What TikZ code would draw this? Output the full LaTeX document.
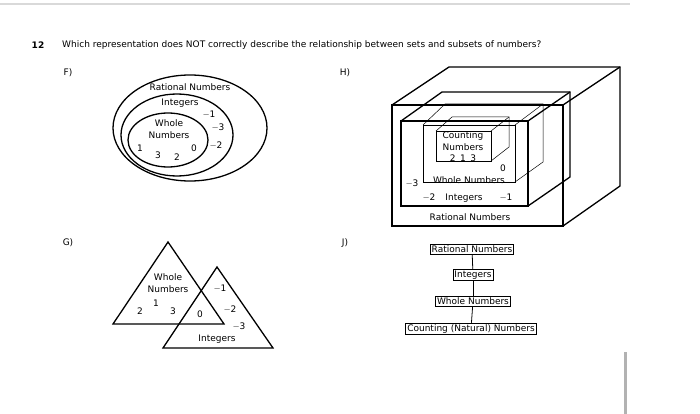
\documentclass[tikz,border=0pt]{standalone}
\usepackage{fontspec}
\setmainfont{DejaVu Sans}
\begin{document}
\begin{tikzpicture}[x=1pt,y=-1pt,
  lab/.style={font=\fontsize{9}{10}\selectfont,inner sep=0pt},
  thk/.style={line width=1.3pt},
  thn/.style={line width=0.5pt},
  jbox/.style={draw,line width=0.8pt,inner sep=1.5pt,font=\fontsize{9}{10}\selectfont}]
\useasboundingbox (0,0) rectangle (700,414);
\draw[gray!30,line width=1.5pt] (0,4) -- (630,4);
\draw[gray!60,line width=3pt] (625,352) -- (625,414);
\node[lab,font=\bfseries\fontsize{9}{10}\selectfont] (q) at (38,45) {12};
\node[lab,anchor=west] (qt) at (62,45) {Which representation does NOT correctly describe the relationship between sets and subsets of numbers?};
\node[lab] (fl) at (68,73) {F)};
\node[lab] (hl) at (345,73) {H)};
\node[lab] (gl) at (68,243) {G)};
\node[lab] (jl) at (345,243) {J)};
% F
\draw[thk] (190,128) ellipse [x radius=77,y radius=53];
\draw[thk] (177,135) ellipse [x radius=56,y radius=41];
\draw[thk] (168,140) ellipse [x radius=40,y radius=27];
\node[lab] (f1) at (190,87) {Rational Numbers};
\node[lab] (f2) at (180,103) {Integers};
\node[lab] (f3) at (209,115) {$-$1};
\node[lab] (f4) at (218,128) {$-$3};
\node[lab] (f5) at (216,146) {$-$2};
\node[lab] (f6) at (169,123) {Whole};
\node[lab] (f7) at (169,135) {Numbers};
\node[lab] (f8) at (140,148) {1};
\node[lab] (f9) at (158,155) {3};
\node[lab] (f10) at (177,157) {2};
\node[lab] (f11) at (194,148) {0};
% H
\draw[thk] (392,105) rectangle (563,226);
\draw[thk] (392,105) -- (449,67) -- (620,67) -- (620,186) -- (563,226);
\draw[thk] (563,105) -- (620,67);
\draw[thk] (401,121) rectangle (528,206);
\draw[thk] (401,121) -- (442,92) -- (570,92) -- (570,177) -- (528,206);
\draw[thk] (528,121) -- (570,92);
\draw[thn] (423,125) rectangle (515,182);
\draw[thn] (423,125) -- (445,104) -- (543,104) -- (543,162) -- (515,182);
\draw[thn] (515,125) -- (543,104);
\draw[thn] (436,131) rectangle (491,161);
\draw[thn] (436,131) -- (452,117) -- (509,117) -- (509,147) -- (491,161);
\draw[thn] (491,131) -- (509,117);
\node[lab] (h1) at (463,136) {Counting};
\node[lab] (h2) at (463,147) {Numbers};
\node[lab] (h3) at (463,158) {2\enspace 1\enspace 3};
\node[lab] (h4) at (503,168) {0};
\node[lab] (h5) at (469,180) {Whole Numbers};
\node[lab] (h6) at (412,184) {$-$3};
\node[lab] (h7) at (429,198) {$-$2};
\node[lab] (h8) at (464,198) {Integers};
\node[lab] (h9) at (506,198) {$-$1};
\node[lab] (h10) at (470,217) {Rational Numbers};
% G
\draw[thk] (168,242) -- (224,324) -- (113,324) -- cycle;
\draw[thk] (217,267) -- (273,348) -- (163,348) -- cycle;
\node[lab] (g1) at (168,277) {Whole};
\node[lab] (g2) at (168,289) {Numbers};
\node[lab] (g3) at (220,289) {$-$1};
\node[lab] (g4) at (156,303) {1};
\node[lab] (g5) at (140,311) {2};
\node[lab] (g6) at (173,311) {3};
\node[lab] (g7) at (200,314) {0};
\node[lab] (g8) at (230,310) {$-$2};
\node[lab] (g9) at (239,327) {$-$3};
\node[lab] (g10) at (217,339) {Integers};
% J
\node[jbox] (j1) at (472,249) {Rational Numbers};
\node[jbox] (j2) at (473,275) {Integers};
\node[jbox] (j3) at (473,301) {Whole Numbers};
\node[jbox] (j4) at (471,329) {Counting (Natural) Numbers};
\draw[line width=0.8pt] (j1) -- (j2);
\draw[line width=0.8pt] (j2) -- (j3);
\draw[line width=0.8pt] (j3) -- (j4);
\end{tikzpicture}
\end{document}
